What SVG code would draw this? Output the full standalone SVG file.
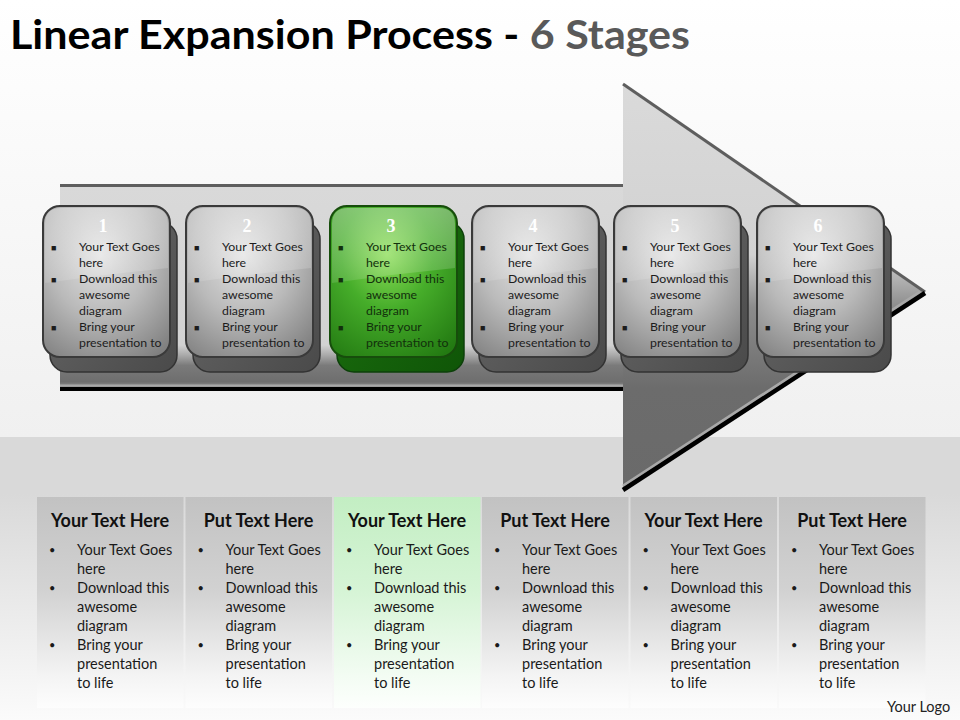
<svg xmlns="http://www.w3.org/2000/svg" xmlns:xlink="http://www.w3.org/1999/xlink" width="960" height="720" viewBox="0 0 960 720">
<style>
.title{font-family:Lato,"Liberation Sans",sans-serif;font-weight:bold;font-size:40px;fill:#000}
.num{font-family:"Liberation Serif",serif;font-weight:bold;font-size:18px;fill:#fff;text-anchor:middle}
.bt{font-family:Lato,"Liberation Sans",sans-serif;font-size:12.3px;fill:#1c1c1c}
.gbt{font-family:Lato,"Liberation Sans",sans-serif;font-size:12.3px;fill:#12300c}
.sb{font-size:9px}
.hd{font-family:Lato,"Liberation Sans",sans-serif;font-weight:bold;font-size:18px;fill:#111;text-anchor:middle}
.ct{font-family:Lato,"Liberation Sans",sans-serif;font-size:14.5px;fill:#1a1a1a}
.cb{font-size:11px}
.logo{font-family:Lato,"Liberation Sans",sans-serif;font-size:14.5px;fill:#222}
</style>
<defs>
<linearGradient id="bgTop" x1="0" y1="0" x2="0" y2="1">
<stop offset="0" stop-color="#ffffff"/><stop offset="1" stop-color="#f0f0f0"/>
</linearGradient>
<linearGradient id="bgBot" x1="0" y1="437" x2="0" y2="720" gradientUnits="userSpaceOnUse">
<stop offset="0" stop-color="#d9d9d9"/><stop offset="0.2" stop-color="#d9d9d9"/><stop offset="1" stop-color="#fbfbfb"/>
</linearGradient>
<linearGradient id="shaft" x1="0" y1="186" x2="0" y2="390" gradientUnits="userSpaceOnUse">
<stop offset="0" stop-color="#d9d9d9"/><stop offset="0.78" stop-color="#d2d2d2"/><stop offset="0.83" stop-color="#a9a9a9"/><stop offset="0.88" stop-color="#7a7a7a"/><stop offset="0.96" stop-color="#6e6e6e"/><stop offset="1" stop-color="#a5a5a5"/>
</linearGradient>
<linearGradient id="head" x1="0" y1="84" x2="0" y2="490" gradientUnits="userSpaceOnUse">
<stop offset="0" stop-color="#dadada"/><stop offset="0.42" stop-color="#d2d2d2"/><stop offset="0.55" stop-color="#8c8c8c"/><stop offset="0.75" stop-color="#6c6c6c"/><stop offset="1" stop-color="#6a6a6a"/>
</linearGradient>
<radialGradient id="grayFace" cx="0.45" cy="0.32" r="0.8">
<stop offset="0" stop-color="#e4e4e4"/><stop offset="0.5" stop-color="#bababa"/><stop offset="1" stop-color="#808080"/>
</radialGradient>
<linearGradient id="grayBack" x1="0" y1="0" x2="1" y2="1">
<stop offset="0" stop-color="#6a6a6a"/><stop offset="1" stop-color="#4a4a4a"/>
</linearGradient>
<radialGradient id="greenFace" cx="0.45" cy="0.32" r="0.8">
<stop offset="0" stop-color="#8ede5a"/><stop offset="0.45" stop-color="#46ad2a"/><stop offset="1" stop-color="#237a12"/>
</radialGradient>
<linearGradient id="greenBack" x1="0" y1="0" x2="1" y2="1">
<stop offset="0" stop-color="#1d7410"/><stop offset="1" stop-color="#0f5507"/>
</linearGradient>
<linearGradient id="gloss" x1="0" y1="0" x2="0" y2="1">
<stop offset="0" stop-color="#ffffff" stop-opacity="0.35"/><stop offset="1" stop-color="#ffffff" stop-opacity="0.12"/>
</linearGradient>
<linearGradient id="colGray" x1="0" y1="0" x2="0" y2="1">
<stop offset="0" stop-color="#c2c2c2"/><stop offset="0.45" stop-color="#d2d2d2"/><stop offset="0.85" stop-color="#f4f4f4"/><stop offset="1" stop-color="#fdfdfd"/>
</linearGradient>
<linearGradient id="colGreen" x1="0" y1="0" x2="0" y2="1">
<stop offset="0" stop-color="#c3eec3"/><stop offset="0.45" stop-color="#d6f4d6"/><stop offset="0.85" stop-color="#f3fcf3"/><stop offset="1" stop-color="#fdfffd"/>
</linearGradient>
<g id="grayBox">
<rect x="7" y="16" width="127" height="150" rx="17" fill="url(#grayBack)" stroke="#333" stroke-width="1.5"/>
<rect x="0" y="0" width="127" height="151" rx="17" fill="url(#grayFace)" stroke="#3a3a3a" stroke-width="2"/>
<path d="M2,18 Q2,2 18,2 L109,2 Q125,2 125,18 L125,62 Q64,68 2,77 Z" fill="url(#gloss)"/>
</g>
<g id="greenBox">
<rect x="7" y="16" width="127" height="150" rx="17" fill="url(#greenBack)" stroke="#0d400a" stroke-width="1.5"/>
<rect x="0" y="0" width="127" height="151" rx="17" fill="url(#greenFace)" stroke="#174d0c" stroke-width="2"/>
<path d="M2,18 Q2,2 18,2 L109,2 Q125,2 125,18 L125,62 Q64,68 2,77 Z" fill="url(#gloss)"/>
</g>
<g id="boxText">
<text class="bt sb" x="8" y="44.5">■</text><text class="bt" x="36" y="44.5">Your Text  Goes</text>
<text class="bt" x="36" y="60.5">here</text>
<text class="bt sb" x="8" y="76.5">■</text><text class="bt" x="36" y="76.5">Download this</text>
<text class="bt" x="36" y="92.5">awesome</text>
<text class="bt" x="36" y="108.5">diagram</text>
<text class="bt sb" x="8" y="124.5">■</text><text class="bt" x="36" y="124.5">Bring your</text>
<text class="bt" x="36" y="140.5">presentation to</text>
</g>
<g id="greenText">
<text class="gbt sb" x="8" y="44.5">■</text><text class="gbt" x="36" y="44.5">Your Text  Goes</text>
<text class="gbt" x="36" y="60.5">here</text>
<text class="gbt sb" x="8" y="76.5">■</text><text class="gbt" x="36" y="76.5">Download this</text>
<text class="gbt" x="36" y="92.5">awesome</text>
<text class="gbt" x="36" y="108.5">diagram</text>
<text class="gbt sb" x="8" y="124.5">■</text><text class="gbt" x="36" y="124.5">Bring your</text>
<text class="gbt" x="36" y="140.5">presentation to</text>
</g>
<g id="colText">
<text class="ct cb" x="12" y="56.5">•</text><text class="ct" x="40" y="57.5">Your Text Goes</text>
<text class="ct" x="40" y="76.5">here</text>
<text class="ct cb" x="12" y="94.5">•</text><text class="ct" x="40" y="95.5">Download this</text>
<text class="ct" x="40" y="114.5">awesome</text>
<text class="ct" x="40" y="133.5">diagram</text>
<text class="ct cb" x="12" y="151.5">•</text><text class="ct" x="40" y="152.5">Bring your</text>
<text class="ct" x="40" y="171.5">presentation</text>
<text class="ct" x="40" y="190.5">to life</text>
</g>
</defs>

<g id="background">
<rect x="0" y="0" width="960" height="437" fill="url(#bgTop)"/>
<rect x="0" y="437" width="960" height="283" fill="url(#bgBot)"/>
</g>

<g id="title">
<text class="title" x="10" y="49" textLength="680" lengthAdjust="spacingAndGlyphs">Linear Expansion Process - <tspan fill="#595959">6 Stages</tspan></text>
</g>

<g id="connectors">
<g id="arrow">
<rect x="60" y="186" width="563" height="202" fill="url(#shaft)"/>
<line x1="60" y1="185.5" x2="623" y2="185.5" stroke="#5e5e5e" stroke-width="3"/>
<line x1="60" y1="385.5" x2="623" y2="385.5" stroke="#a8a8a8" stroke-width="2"/>
<line x1="60" y1="389" x2="623" y2="389" stroke="#000" stroke-width="4"/>
<polygon points="623,84 925,292 623,490" fill="url(#head)"/>
<line x1="623" y1="84" x2="925" y2="292" stroke="#5e5e5e" stroke-width="3"/>
<line x1="920" y1="292" x2="623" y2="486" stroke="#a8a8a8" stroke-width="3"/>
<line x1="925" y1="293" x2="623" y2="490" stroke="#000" stroke-width="4.5"/>
</g>
</g>

<g id="box-1" transform="translate(43,206)">
<use xlink:href="#grayBox"/>
<text class="num" x="60" y="26">1</text>
<use xlink:href="#boxText"/>
</g>
<g id="box-2" transform="translate(186,206)">
<use xlink:href="#grayBox"/>
<text class="num" x="61" y="26">2</text>
<use xlink:href="#boxText"/>
</g>
<g id="box-3" transform="translate(330,206)">
<use xlink:href="#greenBox"/>
<text class="num" x="61" y="26">3</text>
<use xlink:href="#greenText"/>
</g>
<g id="box-4" transform="translate(472,206)">
<use xlink:href="#grayBox"/>
<text class="num" x="61" y="26">4</text>
<use xlink:href="#boxText"/>
</g>
<g id="box-5" transform="translate(614,206)">
<use xlink:href="#grayBox"/>
<text class="num" x="61" y="26">5</text>
<use xlink:href="#boxText"/>
</g>
<g id="box-6" transform="translate(757,206)">
<use xlink:href="#grayBox"/>
<text class="num" x="61" y="26">6</text>
<use xlink:href="#boxText"/>
</g>

<g id="col-1" transform="translate(37,497)">
<rect width="146.5" height="211" fill="url(#colGray)"/>
<text class="hd" x="73" y="30">Your Text Here</text>
<use xlink:href="#colText"/>
</g>
<g id="col-2" transform="translate(185.5,497)">
<rect width="146.5" height="211" fill="url(#colGray)"/>
<text class="hd" x="73" y="30">Put Text Here</text>
<use xlink:href="#colText"/>
</g>
<g id="col-3" transform="translate(334,497)">
<rect width="146.5" height="211" fill="url(#colGreen)"/>
<text class="hd" x="73" y="30">Your Text Here</text>
<use xlink:href="#colText"/>
</g>
<g id="col-4" transform="translate(482,497)">
<rect width="146.5" height="211" fill="url(#colGray)"/>
<text class="hd" x="73" y="30">Put Text Here</text>
<use xlink:href="#colText"/>
</g>
<g id="col-5" transform="translate(630.5,497)">
<rect width="146.5" height="211" fill="url(#colGray)"/>
<text class="hd" x="73" y="30">Your Text Here</text>
<use xlink:href="#colText"/>
</g>
<g id="col-6" transform="translate(779,497)">
<rect width="146.5" height="211" fill="url(#colGray)"/>
<text class="hd" x="73" y="30">Put Text Here</text>
<use xlink:href="#colText"/>
</g>

<g id="logo">
<text class="logo" x="887" y="712">Your Logo</text>
</g>
</svg>
